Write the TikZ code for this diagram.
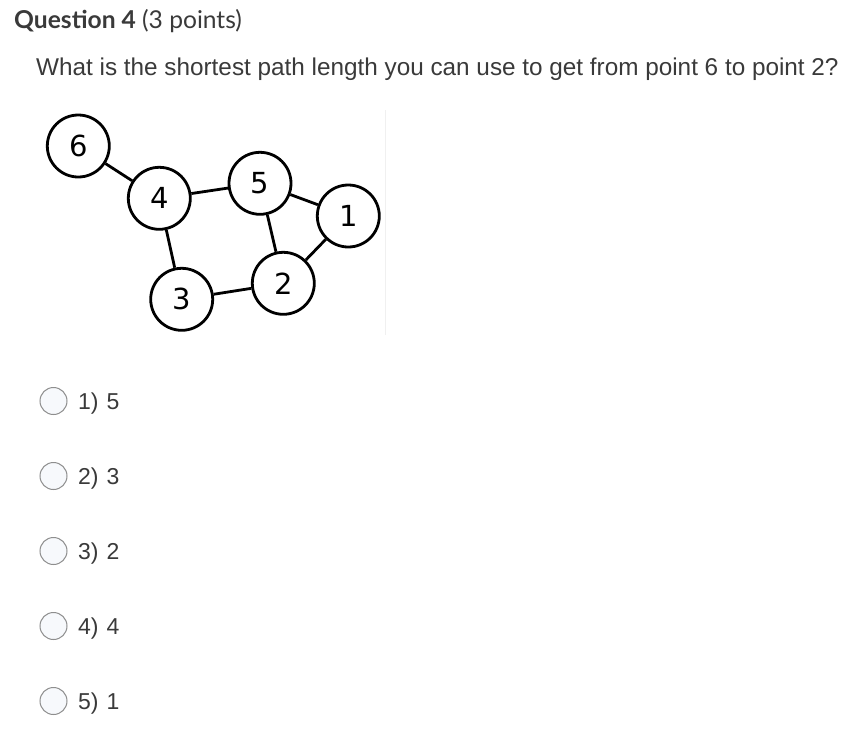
\documentclass[tikz,border=0pt]{standalone}
\usepackage{fontspec}
\setmainfont{Liberation Sans}
\newfontfamily\latofont{Lato}
\newfontfamily\dejafont{DejaVu Sans}
\definecolor{txtgray}{HTML}{3A3A3A}
\definecolor{radioborder}{HTML}{8E8E8E}
\definecolor{radiofill}{HTML}{F7F9FC}
\definecolor{faintline}{HTML}{F0F0F0}
\begin{document}
\begin{tikzpicture}[x=1pt,y=-1pt,
  gnode/.style={circle,draw=black,line width=2.8pt,minimum size=62pt,inner sep=0pt,fill=white,
    font=\dejafont\fontsize{29}{29}\selectfont},
  gedge/.style={line width=2.8pt,draw=black},
  radio/.style={circle,draw=radioborder,line width=1pt,fill=radiofill,minimum size=27pt,inner sep=0pt},
  opt/.style={anchor=base west,inner sep=0pt,text=txtgray,font=\fontsize{23}{23}\selectfont}]
\useasboundingbox (0,0) rectangle (852,732);
\fill[white] (0,0) rectangle (852,732);
% title
\node[anchor=base west,inner sep=0pt,text=txtgray,font=\latofont\fontsize{24.6}{24.6}\selectfont] (title) at (14,28)
  {\textbf{Question 4} (3 points)};
\node[anchor=base west,inner sep=0pt,text=txtgray,font=\fontsize{24.3}{24.3}\selectfont] (question) at (36,75)
  {What is the shortest path length you can use to get from point 6 to point 2?};
% faint image border
\draw[faintline,line width=1pt] (385,110) -- (385,335);
% graph
\node[gnode] (n6) at (78.3,146) {6};
\node[gnode] (n4) at (159.3,198.3) {4};
\node[gnode] (n5) at (260,183.3) {5};
\node[gnode] (n1) at (348.3,216) {1};
\node[gnode] (n2) at (283.3,283.3) {2};
\node[gnode] (n3) at (181.7,299.3) {3};
\draw[gedge] (n6) -- (n4);
\draw[gedge] (n4) -- (n5);
\draw[gedge] (n5) -- (n1);
\draw[gedge] (n5) -- (n2);
\draw[gedge] (n1) -- (n2);
\draw[gedge] (n4) -- (n3);
\draw[gedge] (n3) -- (n2);
% options
\node[radio] (r1) at (53.5,401) {};
\node[opt] (o1) at (78,409) {1)\hspace{8pt}5};
\node[radio] (r2) at (53.5,476) {};
\node[opt] (o2) at (78,484) {2)\hspace{8pt}3};
\node[radio] (r3) at (53.5,551) {};
\node[opt] (o3) at (78,559) {3)\hspace{8pt}2};
\node[radio] (r4) at (53.5,626) {};
\node[opt] (o4) at (78,634) {4)\hspace{8pt}4};
\node[radio] (r5) at (53.5,701) {};
\node[opt] (o5) at (78,709) {5)\hspace{8pt}1};
\end{tikzpicture}
\end{document}
